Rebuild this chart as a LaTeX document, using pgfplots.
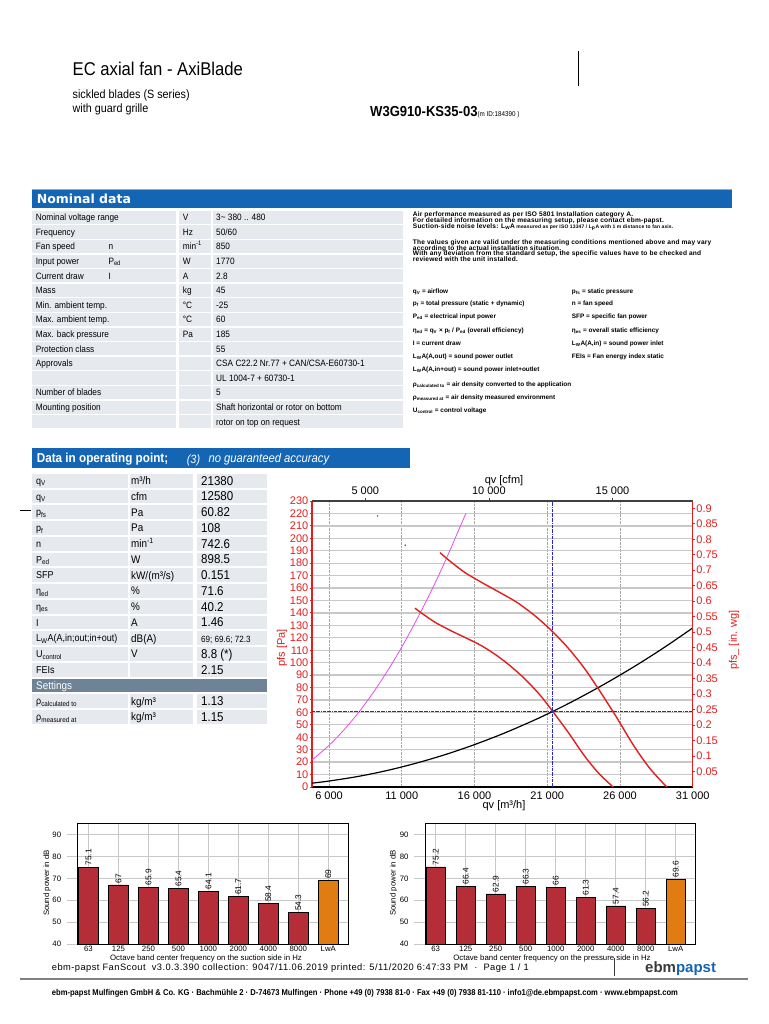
\documentclass[border=0pt]{standalone}
\usepackage{pgfplots}
\pgfplotsset{compat=1.18}
\usepackage{fontspec}
\setmainfont{Liberation Sans}
\newfontfamily\nar[FakeStretch=0.9]{Liberation Sans}
\newfontfamily\dvs{DejaVu Sans}
\newcommand\fs[1]{\fontsize{#1}{#1}\selectfont}
\definecolor{ebmblue}{HTML}{1466B4}
\definecolor{lblue}{HTML}{7AB4E0}
\definecolor{cellbg}{HTML}{E6E9EE}
\definecolor{setbg}{HTML}{6E8398}
\definecolor{barred}{HTML}{B52E37}
\definecolor{barorange}{HTML}{E07C12}
\definecolor{gridgray}{HTML}{C8C8C8}
\definecolor{fanred}{HTML}{E31E1E}
\definecolor{mag}{HTML}{E84AE8}
\definecolor{opblue}{HTML}{2828C8}
\definecolor{logogray}{HTML}{3A3A3A}

\newcommand\nrow[5]{%
 \pgfmathsetmacro\yc{217.3+14.6*#1}
 \fill[cellbg] (32.3,\yc-6.6) rectangle (175.7,\yc+6.6);
 \fill[cellbg] (179,\yc-6.6) rectangle (210.7,\yc+6.6);
 \fill[cellbg] (213.3,\yc-6.6) rectangle (403,\yc+6.6);
 \node[anchor=base west,inner sep=0,font=\nar\fs{9.2}] at (35.7,\yc+3.3) {#2};
 \node[anchor=base west,inner sep=0,font=\nar\fs{9.2}] at (108.3,\yc+3.3) {#3};
 \node[anchor=base west,inner sep=0,font=\nar\fs{9.2}] at (182.7,\yc+3.3) {#4};
 \node[anchor=base west,inner sep=0,font=\nar\fs{9.2}] at (216,\yc+3.3) {#5};
}
\newcommand\orow[4]{%
 \pgfmathsetmacro\yc{480.7+15.75*#1}
 \fill[cellbg] (32.3,\yc-6.8) rectangle (128.3,\yc+6.8);
 \fill[cellbg] (130,\yc-6.8) rectangle (193.3,\yc+6.8);
 \fill[cellbg] (196.7,\yc-6.8) rectangle (266.7,\yc+6.8);
 \node[anchor=base west,inner sep=0,font=\nar\fs{10}] at (36,\yc+3.6) {#2};
 \node[anchor=base west,inner sep=0,font=\nar\fs{11}] at (131,\yc+4) {#3};
 \node[anchor=base west,inner sep=0,font=\nar\fs{12.8}] at (201,\yc+4.5) {#4};
}

\begin{document}
\begin{tikzpicture}
\path[use as bounding box] (0,0) rectangle (768pt,-1024pt);
\fill[white] (0,0) rectangle (768pt,-1024pt);
\begin{scope}[x=1pt,y=-1pt]
% header
\node[anchor=base west,inner sep=0,font=\nar\fs{18.5}] at (72.5,76) {EC axial fan - AxiBlade};
\node[anchor=base west,inner sep=0,font=\nar\fs{12}] at (72.5,99) {sickled blades (S series)};
\node[anchor=base west,inner sep=0,font=\nar\fs{12}] at (72.5,113) {with guard grille};
\node[anchor=base west,inner sep=0,font=\nar\bfseries\fs{14.5}] at (370,116.5) {W3G910-KS35-03{\mdseries\fs{7}(m ID:184390 )}};
\draw[black,line width=1pt] (578,51) -- (578,86);
% nominal data
\fill[ebmblue] (32.3,189) rectangle (731.7,208.5);
\draw[lblue,line width=1.2pt] (32.3,189.4) -- (731.7,189.4);
\node[anchor=base west,inner sep=0,font=\dvs\bfseries\fs{12.5},text=white] at (36.7,203.5) {Nominal data};
\nrow{0}{Nominal voltage range}{}{V}{3\textasciitilde{} 380 .. 480}
\nrow{1}{Frequency}{}{Hz}{50/60}
\nrow{2}{Fan speed}{n}{min\textsuperscript{-1}}{850}
\nrow{3}{Input power}{P\textsubscript{ed}}{W}{1770}
\nrow{4}{Current draw}{I}{A}{2.8}
\nrow{5}{Mass}{}{kg}{45}
\nrow{6}{Min. ambient temp.}{}{°C}{-25}
\nrow{7}{Max. ambient temp.}{}{°C}{60}
\nrow{8}{Max. back pressure}{}{Pa}{185}
\nrow{9}{Protection class}{}{}{55}
\nrow{10}{Approvals}{}{}{CSA C22.2 Nr.77 + CAN/CSA-E60730-1}
\nrow{11}{}{}{}{UL 1004-7 + 60730-1}
\nrow{12}{Number of blades}{}{}{5}
\nrow{13}{Mounting position}{}{}{Shaft horizontal or rotor on bottom}
\nrow{14}{}{}{}{rotor on top on request}
% notes
\begin{scope}[every node/.style={anchor=base west,inner sep=0,font=\bfseries\fs{6.6}\addfontfeature{LetterSpace=3}}]
\node at (412.7,216.3) {Air performance measured as per ISO 5801 Installation category A.};
\node at (412.7,222.2) {For detailed information on the measuring setup, please contact ebm-papst.};
\node at (412.7,228.1) {Suction-side noise levels: L\textsubscript{W}A{\fs{5} measured as per ISO 13347 / L\textsubscript{p}A with 1 m distance to fan axis.}};
\node at (412.7,244.3) {The values given are valid under the measuring conditions mentioned above and may vary};
\node at (412.7,250) {according to the actual installation situation.};
\node at (412.7,255.7) {With any deviation from the standard setup, the specific values have to be checked and};
\node at (412.7,261.4) {reviewed with the unit installed.};
\end{scope}
\begin{scope}[every node/.style={anchor=base west,inner sep=0,font=\bfseries\fs{6.4}}]
\node at (412.7,293) {q\textsubscript{V} = airflow};
\node at (412.7,305.3) {p\textsubscript{f} = total pressure (static + dynamic)};
\node at (412.7,318.7) {P\textsubscript{ed} = electrical input power};
\node at (412.7,332.7) {η\textsubscript{ed} = q\textsubscript{V} × p\textsubscript{f} / P\textsubscript{ed} (overall efficiency)};
\node at (412.7,345.3) {I = current draw};
\node at (412.7,358.7) {L\textsubscript{W}A(A,out) = sound power outlet};
\node at (412.7,371.3) {L\textsubscript{W}A(A,in+out) = sound power inlet+outlet};
\node at (412.7,386) {ρ\textsubscript{calculated to} = air density converted to the application};
\node at (412.7,399) {ρ\textsubscript{measured at} = air density measured environment};
\node at (412.7,412.3) {U\textsubscript{control} = control voltage};
\node at (571.7,293) {p\textsubscript{fs} = static pressure};
\node at (571.7,305.3) {n = fan speed};
\node at (571.7,318.7) {SFP = specific fan power};
\node at (571.7,332.7) {η\textsubscript{es} = overall static efficiency};
\node at (571.7,345.3) {L\textsubscript{W}A(A,in) = sound power inlet};
\node at (571.7,358.7) {FEIs = Fan energy index static};
\end{scope}
% operating point
\fill[ebmblue] (32.3,448) rectangle (410,467.5);
\node[anchor=base west,inner sep=0,font=\nar\bfseries\fs{13},text=white] at (36.7,462.5) {Data in operating point;};
\node[anchor=base west,inner sep=0,font=\nar\itshape\fs{12},text=white] at (186.7,463.5) {(3)};
\node[anchor=base west,inner sep=0,font=\nar\itshape\fs{12.5},text=white] at (208.3,462.5) {no guaranteed accuracy};
\draw[black,line width=0.8pt] (20,510.5) -- (31,510.5);
\orow{0}{q\textsubscript{V}}{m³/h}{21380}
\orow{1}{q\textsubscript{V}}{cfm}{12580}
\orow{2}{p\textsubscript{fs}}{Pa}{60.82}
\orow{3}{p\textsubscript{f}}{Pa}{108}
\orow{4}{n}{min\textsuperscript{-1}}{742.6}
\orow{5}{P\textsubscript{ed}}{W}{898.5}
\orow{6}{SFP}{kW/(m³/s)}{0.151}
\orow{7}{η\textsubscript{ed}}{\%}{71.6}
\orow{8}{η\textsubscript{es}}{\%}{40.2}
\orow{9}{I}{A}{1.46}
\orow{10}{L\textsubscript{W}A(A,in;out;in+out)}{dB(A)}{{\fs{9}69; 69.6; 72.3}}
\orow{11}{U\textsubscript{control}}{V}{8.8 (*)}
\orow{12}{FEIs}{}{2.15}
\pgfmathsetmacro\yc{480.7+15.75*13}
\fill[setbg] (32.3,\yc-6.8) rectangle (266.7,\yc+6.8);
\node[anchor=base west,inner sep=0,font=\nar\fs{11},text=white] at (36,\yc+4) {Settings};
\orow{14}{ρ\textsubscript{calculated to}}{kg/m³}{1.13}
\orow{15}{ρ\textsubscript{measured at}}{kg/m³}{1.15}
% chart labels
\node[rotate=90,font=\fs{11},text=fanred] at (282,648) {pfs [Pa]};
\node[rotate=90,font=\fs{11},text=fanred] at (734,640) {pfs\_ [in. wg]};
\node[font=\fs{11}] at (504,480.5) {qv [cfm]};
\node[font=\fs{11}] at (504,806) {qv [m³/h]};
% bar chart labels
\node[rotate=90,font=\fs{7.8}] at (47,883) {Sound power in dB};
\node[rotate=90,font=\fs{7.8}] at (393.5,883) {Sound power in dB};
\node[font=\fs{7.8}] at (206,958) {Octave band center frequency on the suction side in Hz};
\node[font=\fs{7.8}] at (552,958) {Octave band center frequency on the pressure side in Hz};
% footer
\node[anchor=base west,inner sep=0,font=\fs{9.3}\addfontfeature{LetterSpace=5}] at (51.7,970.5) {ebm-papst FanScout\ \ v3.0.3.390 collection: 9047/11.06.2019 printed: 5/11/2020 6:47:33 PM\ \ ·\ \ Page 1 / 1};
\draw[logogray,line width=0.8pt] (614.5,958) -- (614.5,976);
\node[anchor=base west,inner sep=0,font=\bfseries\fs{15}] at (645,972.5) {\textcolor{logogray}{ebm}\textcolor{ebmblue}{papst}};
\draw[gray,line width=1.2pt] (20,979) -- (748,979);
\node[anchor=base west,inner sep=0,font=\nar\bfseries\fs{8.45}] at (51.7,995) {ebm-papst Mulfingen GmbH \& Co. KG · Bachmühle 2 · D-74673 Mulfingen · Phone +49 (0) 7938 81-0 · Fax +49 (0) 7938 81-110 · info1@de.ebmpapst.com · www.ebmpapst.com};
\end{scope}

% main chart
\begin{axis}[
  at={(312pt,-787pt)}, anchor=south west,
  scale only axis, width=380.7pt, height=286pt,
  xmin=4830, xmax=31000, ymin=0, ymax=230,
  scaled x ticks=false, scaled y ticks=false,
  axis x line*=bottom, axis y line*=left,
  x axis line style={black, line width=1.3pt},
  y axis line style={fanred, line width=1.3pt},
  xtick={6000,11000,16000,21000,26000,31000},
  xticklabels={6 000,11 000,16 000,21 000,26 000,31 000},
  ytick={0,10,...,230},
  tick align=outside, major tick length=2.5pt,
  xtick style={draw=none},
  ytick style={fanred, line width=1pt},
  tick label style={font=\fs{11}},
  /pgf/number format/assume math mode=true,
  yticklabel style={text=fanred, inner sep=1pt},
  xticklabel style={inner sep=2pt},
  xmajorgrids, ymajorgrids,
  x grid style={gray!70, densely dotted, line width=0.7pt},
  y grid style={gridgray, line width=1.3pt},
]
\addplot[mag, line width=0.8pt, smooth] coordinates {(4830,21.7)(6000,33.5)(7000,45.6)(8000,59.5)(9000,75.3)(10000,93)(11000,112.5)(12000,134)(13000,157)(14000,182)(15000,209)(15409,220)};
\addplot[black, line width=1.2pt, smooth] coordinates {(4830,3.1)(6000,4.8)(8000,8.5)(10000,13.3)(12000,19.2)(14000,26.1)(16000,34.1)(18000,43.1)(20000,53.2)(21380,60.8)(23000,70.4)(25000,83.2)(27000,97)(29000,111.9)(31000,127.9)};
\addplot[fanred, line width=1.4pt, smooth] coordinates {(13629,188.4)(14308,181.7)(15338,172.5)(16597,163.8)(17741,156.4)(18886,148.7)(20031,138.9)(21175,127.1)(22320,113.3)(23464,96.9)(24472,79.7)(25754,56.3)(26898,34.1)(28043,15.1)(29218,0)};
\addplot[fanred, line width=1.4pt, smooth] coordinates {(11907,143.8)(12500,138.7)(13400,131.7)(14500,125)(15500,119.4)(16500,113.5)(17500,106)(18500,97)(19500,86.5)(20500,74)(21380,60.8)(22500,43)(23500,26)(24500,11.5)(25527,0)};
\addplot[opblue, densely dash dot, line width=0.9pt] coordinates {(21380,0)(21380,230)};
\addplot[opblue, densely dash dot, line width=0.9pt] coordinates {(4830,60.82)(31000,60.82)};
\addplot[only marks, mark=*, mark size=0.5pt, fanred] coordinates {(9345,218)(11240,194.4)};
\end{axis}

% secondary axes (cfm, in. wg)
\begin{axis}[
  at={(312pt,-787pt)}, anchor=south west,
  scale only axis, width=380.7pt, height=286pt,
  xmin=2842.8, xmax=18246, ymin=0, ymax=0.92338,
  scaled x ticks=false, scaled y ticks=false,
  axis x line*=top, axis y line*=right,
  x axis line style={black!75, line width=1.4pt},
  y axis line style={fanred, line width=1.3pt},
  xtick={5000,10000,15000}, xticklabels={5 000,10 000,15 000},
  ytick={0.05,0.1,0.15,0.2,0.25,0.3,0.35,0.4,0.45,0.5,0.55,0.6,0.65,0.7,0.75,0.8,0.85,0.9},
  tick align=outside, major tick length=2.5pt,
  xtick style={black!75, line width=0.8pt},
  ytick style={fanred, line width=1pt},
  tick label style={font=\fs{11}},
  /pgf/number format/assume math mode=true,
  yticklabel style={text=fanred, inner sep=1pt, /pgf/number format/fixed, /pgf/number format/precision=2},
]
\addplot[draw=none] coordinates {(5000,0.5)};
\end{axis}

% suction side bars
\begin{axis}[
  at={(77.7pt,-944pt)}, anchor=south west,
  scale only axis, width=270.6pt, height=121pt,
  xmin=-0.36, xmax=8.667, ymin=40, ymax=95.3,
  ybar, bar width=19.3pt,
  xtick={0,...,8}, xticklabels={63,125,250,500,1000,2000,4000,8000,LwA},
  ytick={40,50,...,90},
  xmajorgrids, ymajorgrids, grid style={gridgray, line width=0.7pt},
  axis line style={black, line width=0.9pt},
  tick align=inside, major tick length=11pt,
  xtick style={draw=none}, ytick style={gridgray, line width=0.7pt, xshift=-11pt},
  tick label style={font=\fs{7.8}},
  xticklabel style={inner sep=2pt},
  yticklabel style={xshift=-13pt},
  /pgf/number format/assume math mode=true,
  nodes near coords,
  nodes near coords style={rotate=90, anchor=west, font=\fs{8.3}, inner sep=1.5pt, text=black},
]
\addplot[fill=barred, draw=black, line width=0.7pt, bar shift=0pt] coordinates {(0,75.1)(1,67)(2,65.9)(3,65.4)(4,64.1)(5,61.7)(6,58.4)(7,54.3)};
\addplot[fill=barorange, draw=black, line width=0.7pt, bar shift=0pt] coordinates {(8,69)};
\end{axis}

% pressure side bars
\begin{axis}[
  at={(425pt,-944pt)}, anchor=south west,
  scale only axis, width=270.7pt, height=121pt,
  xmin=-0.357, xmax=8.667, ymin=40, ymax=95.3,
  ybar, bar width=19.3pt,
  xtick={0,...,8}, xticklabels={63,125,250,500,1000,2000,4000,8000,LwA},
  ytick={40,50,...,90},
  xmajorgrids, ymajorgrids, grid style={gridgray, line width=0.7pt},
  axis line style={black, line width=0.9pt},
  tick align=inside, major tick length=11pt,
  xtick style={draw=none}, ytick style={gridgray, line width=0.7pt, xshift=-11pt},
  tick label style={font=\fs{7.8}},
  xticklabel style={inner sep=2pt},
  yticklabel style={xshift=-13pt},
  /pgf/number format/assume math mode=true,
  nodes near coords,
  nodes near coords style={rotate=90, anchor=west, font=\fs{8.3}, inner sep=1.5pt, text=black},
]
\addplot[fill=barred, draw=black, line width=0.7pt, bar shift=0pt] coordinates {(0,75.2)(1,66.4)(2,62.9)(3,66.3)(4,66)(5,61.3)(6,57.4)(7,56.2)};
\addplot[fill=barorange, draw=black, line width=0.7pt, bar shift=0pt] coordinates {(8,69.6)};
\end{axis}
\end{tikzpicture}
\end{document}
